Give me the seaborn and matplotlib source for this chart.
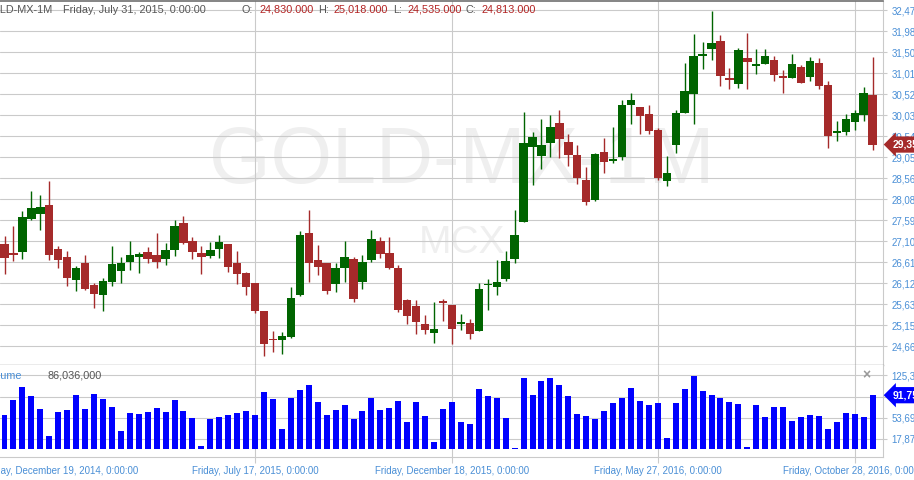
import numpy as np
import pandas as pd
import seaborn as sns
import matplotlib
matplotlib.use("Agg")
import matplotlib.pyplot as plt
import matplotlib.transforms as mtransforms

## Donnees ##

symbol = "GOLD-MX-1M"
exchange = "MCX"
start_date = "2015-01-02"   # first weekly candle (Friday)

opens = [27041, 26831, 26866, 27632, 27750, 27950, 26924, 26739, 26211, 26602,
         26089, 25864, 26167, 26421, 26631, 26748, 26856, 26787, 26699, 26910,
         27530, 27115, 26831, 26773, 26934, 27041, 26602, 26367, 26138, 25483,
         24830, 24819, 24888, 25864, 27300, 26670, 26607, 26118, 26494, 26695,
         26167, 26680, 27115, 26831, 26485, 25742, 25601, 25181, 24980, 25718,
         25625, 25181, 25205, 25029, 26079, 26050, 26231, 26695, 27564, 29293,
         29097, 29400, 29854, 29415, 29112, 28531, 28072, 29180, 28980, 29068,
         30284, 30221, 30064, 29693, 28516, 29351, 30099, 30538, 31422, 31583,
         31764, 30904, 30773, 31368, 31193, 31236, 31319, 30948, 30909, 31158,
         30934, 31251, 30738, 29630, 29654, 29889, 30050, 30509]
highs = [27227, 27461, 27808, 28277, 28184, 28506, 26997, 26880, 26533, 26787,
         26138, 26250, 26997, 26739, 27115, 26856, 26973, 27300, 27066, 27603,
         27696, 27207, 26997, 27090, 27251, 27041, 26880, 26392, 26138, 25483,
         25018, 25005, 26045, 27344, 27832, 27022, 26607, 26602, 27115, 26739,
         26787, 27369, 27207, 27207, 26553, 25762, 25742, 25391, 25693, 25762,
         25625, 25415, 25293, 26138, 26231, 26670, 26880, 27832, 30113, 29649,
         29952, 30045, 30157, 29600, 29346, 28834, 29161, 29508, 29762, 30392,
         30553, 30221, 30274, 29742, 29088, 30157, 31251, 31925, 31739, 32462,
         31906, 31134, 31603, 31949, 31578, 31578, 31417, 31090, 31461, 31207,
         31393, 31368, 30831, 29903, 30064, 30157, 30694, 31393]
lows = [26343, 26646, 26699, 27603, 27369, 26670, 26485, 26065, 25947, 25972,
        25562, 25493, 26074, 26143, 26436, 26377, 26602, 26494, 26553, 26773,
        27041, 26699, 26353, 26724, 26724, 26402, 26118, 25864, 25444, 24448,
        24535, 24492, 24863, 25840, 26167, 26328, 25889, 25933, 26167, 25703,
        26006, 26631, 26719, 26470, 25469, 25190, 24956, 24956, 24746, 25259,
        24726, 25049, 24844, 25029, 25508, 25864, 26192, 26602, 27564, 28423,
        28785, 29068, 29044, 28858, 28438, 27950, 28052, 28702, 28936, 28995,
        29835, 29610, 29610, 28541, 28399, 29166, 30099, 29835, 31114, 31329,
        30724, 30646, 30680, 30646, 31002, 31236, 30831, 30553, 30909, 30797,
        30841, 30655, 29283, 29444, 29586, 29703, 29913, 29239]
closes = [26724, 26797, 27671, 27881, 27901, 26787, 26680, 26260, 26485, 25996,
          25889, 26182, 26577, 26602, 26787, 26812, 26699, 26631, 26905, 27461,
          27066, 26866, 26748, 26895, 27090, 26514, 26353, 26050, 25493, 24726,
          24813, 24897, 25786, 27251, 26607, 26514, 25957, 26485, 26739, 25772,
          26616, 27159, 26802, 26494, 25518, 25376, 25234, 25049, 25068, 25679,
          25073, 25234, 24956, 25996, 26113, 26157, 26646, 27251, 29390, 29522,
          29346, 29762, 29493, 29112, 28580, 28028, 29136, 28956, 29019, 30274,
          30392, 30025, 29679, 28585, 28692, 30089, 30602, 31417, 31461, 31715,
          30958, 30865, 31554, 31285, 31227, 31417, 30983, 30909, 31227, 30797,
          31300, 30724, 29561, 29679, 29952, 30089, 30553, 29355]
# volume en millions
volumes = [57.4, 83.0, 105.1, 89.8, 67.6, 21.6, 62.5, 65.9, 91.5, 67.6,
           93.2, 84.7, 71.0, 30.1, 60.8, 59.1, 62.5, 69.3, 62.5, 83.0,
           64.2, 52.3, 4.5, 50.6, 54.0, 57.4, 60.8, 64.2, 57.4, 96.6,
           86.036, 33.5, 86.4, 100.0, 108.5, 79.6, 57.4, 65.9, 74.4, 50.6,
           64.2, 86.4, 65.9, 69.3, 81.3, 45.5, 79.6, 55.7, 11.4, 67.6,
           79.6, 45.5, 42.1, 101.7, 89.8, 86.4, 52.3, 2.5, 120.5, 91.5,
           115.4, 120.5, 108.5, 89.8, 59.1, 55.7, 50.6, 64.2, 77.9, 86.4,
           103.4, 81.3, 74.4, 77.9, 18.2, 77.9, 101.7, 123.9, 98.3, 91.5,
           86.4, 79.6, 76.2, 3.4, 74.4, 54.0, 71.0, 71.0, 47.2, 54.0,
           57.4, 55.7, 33.5, 45.5, 60.8, 59.1, 54.0, 91.75]

price_ticks = [24663, 25151, 25639, 26128, 26616, 27104, 27593, 28081, 28569,
               29058, 29546, 30035, 30523, 31011, 31500, 31988, 32476]
volume_ticks = [17.875, 53.69, 89.505, 125.32]
date_ticks = ["2014-12-19", "2015-07-17", "2015-12-18", "2016-05-27", "2016-10-28"]
hover_idx = 30   # bougie affichee dans l'en-tete

UP = "#006400"
DOWN = "#a52a2a"
GRID = "#cacaca"
BLUE_TXT = "#4a8fd6"
VOL = "#0000ff"
XMIN, XMAX = -0.503, 98.16
HDR = 7.8   # taille police en-tete

## Figure ##

sns.set_theme(style="white")
plt.rcParams['font.family'] = ['Liberation Sans', 'DejaVu Sans']

df = pd.DataFrame({"open": opens, "high": highs, "low": lows,
                   "close": closes, "volume": volumes})
df["date"] = pd.date_range(start_date, periods=len(df), freq="7D")
df["idx"] = np.arange(len(df))
colors = np.where(df["close"] >= df["open"], UP, DOWN)

W, H = 914, 480
fig = plt.figure(figsize=(W / 100, H / 100), dpi=100)


def fx(x):
    return x / W


def fy(y):
    return 1 - y / H


ax = fig.add_axes([0, fy(365), fx(883), fy(1) - fy(365)])
axv = fig.add_axes([0, fy(457), fx(883), fy(365) - fy(457)], sharex=ax)

# bougies
ax.vlines(df["idx"], df["low"], df["high"], colors=colors, linewidth=1.0, zorder=2)
body = (df["close"] - df["open"]).abs().clip(lower=20)
ax.bar(df["idx"], body, bottom=df[["open", "close"]].min(axis=1), width=0.94,
       color=colors, linewidth=0, zorder=3)

# volume
sns.barplot(data=df, x="idx", y="volume", native_scale=True, color=VOL,
            saturation=1, width=0.67, errorbar=None, ax=axv, zorder=3,
            linewidth=0)
axv.set_xlabel("")
axv.set_ylabel("")

# axes
x0 = df["date"].iloc[0]
dts = [pd.Timestamp(d) for d in date_ticks]
tick_pos = [(d - x0).days / 7 for d in dts]
tick_lab = [f"{d:%A}, {d:%B} {d.day}, {d.year}, 0:00:00" for d in dts]
inside = [(p, l) for p, l in zip(tick_pos, tick_lab) if XMIN <= p <= XMAX]
outside = [(p, l) for p, l in zip(tick_pos, tick_lab) if not XMIN <= p <= XMAX]

for a in (ax, axv):
    a.set_axisbelow(True)
    a.yaxis.tick_right()
    a.grid(True, color=GRID, linewidth=0.8)
    a.spines["left"].set_visible(False)
    a.spines["right"].set_color(GRID)
    a.spines["right"].set_linewidth(0.8)
    a.tick_params(axis="y", right=True, length=3, width=0.8, color=GRID, pad=3,
                  labelsize=7, labelcolor=BLUE_TXT)

ax.set_yticks(price_ticks, labels=[f"{v:,}.000" for v in price_ticks])
axv.set_yticks(volume_ticks, labels=[f"{v * 1e6:,.0f}" for v in volume_ticks])
axv.set_xticks([p for p, _ in inside], labels=[l for _, l in inside])
ax.tick_params(axis="x", labelbottom=False, length=0)
axv.tick_params(axis="x", bottom=True, length=4.5, width=0.8, color=GRID, pad=2,
                labelsize=7, labelcolor=BLUE_TXT)

# limites apres les ticks (set_xticks elargit la vue)
ax.set_xlim(XMIN, XMAX)
ax.set_ylim(24228, 32693)
axv.set_ylim(-13.6, 143.2)

# etiquette de date hors de la vue : calee contre le bord gauche
for p, l in outside:
    axv.text(0.1563, -0.152, l, transform=axv.transAxes, ha="right", va="center",
             fontsize=7, color=BLUE_TXT, clip_on=False)

ax.spines["top"].set_color("#707070")
ax.spines["top"].set_linewidth(1.2)
ax.spines["bottom"].set_color("#999999")
ax.spines["bottom"].set_linewidth(1.0)
axv.spines["top"].set_visible(False)
axv.spines["bottom"].set_color(GRID)
axv.spines["bottom"].set_linewidth(0.8)

# filigrane
ax.text(0.5227, 0.5, symbol, transform=ax.transAxes, fontsize=57,
        color="#efefef", ha="center", va="baseline", zorder=0.1)
ax.text(0.5227, 0.3077, exchange, transform=ax.transAxes, fontsize=28,
        color="#efefef", ha="center", va="baseline", zorder=0.1)

# etiquettes du dernier cours / volume
tr = mtransforms.blended_transform_factory(ax.transAxes, ax.transData)
ax.text(1.011, closes[-1], f"{closes[-1]:,.3f}", transform=tr, ha="left",
        va="center", color="white", fontsize=7.5, fontweight="bold",
        clip_on=False, zorder=10,
        bbox=dict(boxstyle="larrow,pad=0.3", fc=DOWN, ec="none"))
trv = mtransforms.blended_transform_factory(axv.transAxes, axv.transData)
axv.text(1.011, volumes[-1], f"{volumes[-1] * 1e6:,.0f}", transform=trv,
         ha="left", va="center", color="white", fontsize=7.5, fontweight="bold",
         clip_on=False, zorder=10,
         bbox=dict(boxstyle="larrow,pad=0.3", fc=VOL, ec="none"))

# en-tete
h = df.iloc[hover_idx]
d = h["date"]
fig.text(fx(53), fy(10), symbol, ha="right", va="center", fontsize=HDR, color="#555555")
fig.text(fx(63), fy(10), f"{d:%A}, {d:%B} {d.day}, {d.year}, 0:00:00",
         ha="left", va="center", fontsize=HDR, color="#555555")
for lab, val, xl, xv in [("O:", h["open"], 242, 259), ("H:", h["high"], 318, 334),
                         ("L:", h["low"], 393, 408), ("C:", h["close"], 466, 482)]:
    fig.text(fx(xl), fy(10), lab, ha="left", va="center", fontsize=HDR, color="#555555")
    fig.text(fx(xv), fy(10), f"{val:,.3f}", ha="left", va="center", fontsize=HDR,
             color="#b22222")

fig.text(fx(22), fy(376), "Volume", ha="right", va="center", fontsize=HDR, color=BLUE_TXT)
fig.text(fx(48), fy(376), f"{h['volume'] * 1e6:,.0f}", ha="left", va="center",
         fontsize=HDR, color="#555555")
fig.text(fx(866), fy(375), "\u00d7", ha="center", va="center", fontsize=10,
         color="#999999", fontweight="bold")

fig.savefig("out.png", dpi=100)
